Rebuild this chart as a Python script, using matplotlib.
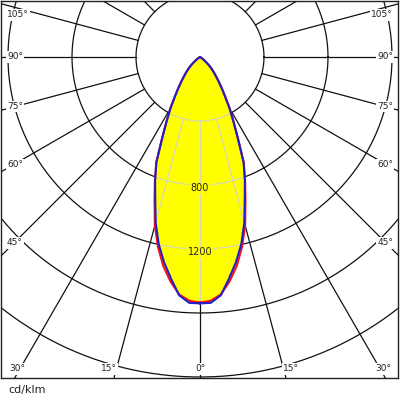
import numpy as np
import matplotlib.pyplot as plt
from matplotlib.patches import Polygon

# gamma angles (deg) and luminous intensity in cd/klm for the two C-planes
gamma = [0, 2.5, 5, 7.5, 10, 12.5, 15, 17.5, 20, 22.5, 25, 27.5, 30, 32.5, 35, 37.5, 40,
         42.5, 45, 47.5, 50, 52.5, 55, 57.5, 60, 62.5, 90, 180]
c0_180 = [1535, 1525, 1490, 1415, 1325, 1215, 1090, 945, 825, 715, 560, 452, 369, 291, 235, 190, 153,
          125, 99, 73, 50, 32, 18, 8, 3, 0, 0, 0]
c90_270 = [1540, 1538, 1495, 1395, 1300, 1195, 1070, 930, 820, 712, 560, 452, 369, 291, 235, 190, 153,
           125, 99, 73, 50, 32, 18, 8, 3, 0, 0, 0]

ring_values = [400, 800, 1200, 1600, 2000, 2400]
ring_labels = [800, 1200]
side_angles = [45, 60, 75, 90, 105]
bottom_angles = [0, 15, 30]
unit = 'cd/klm'

px = 6.25   # cd/klm per pixel

fig = plt.figure(figsize=(4, 4), dpi=100)
ax = fig.add_axes([1/400, 22/400, 397/400, 377/400])
ax.set_xlim(-199*px, 198*px)
ax.set_ylim(-321*px, 56*px)
ax.set_xticks([])
ax.set_yticks([])
for s in ax.spines.values():
    s.set_linewidth(1.0)
    s.set_color('#222222')


def curve(vals):
    g = np.radians(np.array(gamma, dtype=float))
    v = np.array(vals, dtype=float)
    # right half then left half (mirrored)
    th = np.concatenate([g, -g[::-1]])
    r = np.concatenate([v, v[::-1]])
    return r * np.sin(th), -r * np.cos(th)


def draw_grid(color, lw, z, clip=None):
    arts = []
    t = np.linspace(0, 2*np.pi, 400)
    for rv in ring_values:
        arts += ax.plot(rv*np.cos(t), rv*np.sin(t), color=color, lw=lw, zorder=z)
    for a in range(-180, 181, 15):
        ar = np.radians(a)
        arts += ax.plot([400*np.sin(ar), 3000*np.sin(ar)], [-400*np.cos(ar), -3000*np.cos(ar)],
                        color=color, lw=lw, zorder=z)
    if clip is not None:
        for a in arts:
            a.set_clip_path(clip)


# black grid outside
draw_grid('#111111', 0.9, 1)

# yellow fill
x0, y0 = curve(c0_180)
x9, y9 = curve(c90_270)
ax.fill(x0, y0, color='#ffff00', lw=0, zorder=2)
p9 = Polygon(np.column_stack([x9, y9]), closed=True, facecolor='#ffff00', lw=0, zorder=2)
ax.add_patch(p9)

# light grid inside the fill
draw_grid('#d8d8b4', 0.9, 3, clip=p9)

ax.plot(x0, y0, color='#ff1010', lw=1.5, zorder=4)
ax.plot(x9, y9, color='#2020c8', lw=1.5, zorder=5)

# intensity labels
for v in ring_labels:
    ax.text(0, -v - 20, str(v), ha='center', va='center', fontsize=7, color='#222222', zorder=6,
            bbox=dict(facecolor='#ffff00', edgecolor='none', pad=0.5))

lab_box = dict(facecolor='white', edgecolor='none', pad=0.8)

# angle labels on the sides
for a in side_angles:
    y = -186*px / np.tan(np.radians(a))
    y = min(y, 42*px)
    ax.text(-193*px, y, f'{a}°', ha='left', va='center', fontsize=6.5, color='#222222',
            bbox=lab_box, zorder=6)
    ax.text(193*px, y, f'{a}°', ha='right', va='center', fontsize=6.5, color='#222222',
            bbox=lab_box, zorder=6)

# angle labels at the bottom
for a in bottom_angles:
    xl = 312*px*np.tan(np.radians(a))
    for sgn in ([1] if a == 0 else [-1, 1]):
        xc = sgn*min(xl + 7*px, 183*px) if a else 0
        ax.text(xc, -312*px, f'{a}°', ha='center', va='center', fontsize=6.5, color='#222222',
                bbox=lab_box, zorder=6)

fig.text(8/400, 1 - 390/400, unit, ha='left', va='center', fontsize=8, color='#222222')

plt.savefig('out.png', dpi=100)
